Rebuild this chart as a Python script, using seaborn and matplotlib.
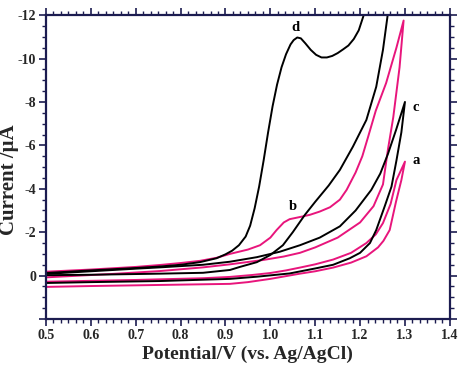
import matplotlib
matplotlib.use("Agg")
import matplotlib.pyplot as plt
import seaborn as sns
import pandas as pd
from matplotlib.ticker import MultipleLocator, AutoMinorLocator

# cyclic voltammograms, potential (V) vs current (uA), forward + reverse scans
a_fwd_E = [0.50, 0.60, 0.70, 0.754, 0.85, 0.91, 0.96, 1.00, 1.035, 1.066, 1.10, 1.14, 1.18, 1.214,
           1.235, 1.251, 1.268, 1.281, 1.30]
a_fwd_I = [0.28, 0.24, 0.20, 0.17, 0.12, 0.06, -0.03, -0.12, -0.24, -0.37, -0.52, -0.74, -1.05, -1.5,
           -1.9, -2.42, -3.3, -4.4, -5.25]
a_rev_E = [1.30, 1.292, 1.28, 1.266, 1.252, 1.24, 1.214, 1.18, 1.14, 1.10, 1.066, 1.00, 0.95, 0.91,
           0.754, 0.60, 0.50]
a_rev_I = [-5.25, -4.4, -3.4, -2.1, -1.6, -1.3, -0.89, -0.6, -0.37, -0.2, -0.09, 0.15, 0.3, 0.38,
           0.43, 0.48, 0.52]

b_fwd_E = [0.50, 0.60, 0.70, 0.754, 0.80, 0.843, 0.88, 0.91, 0.95, 0.977, 1.00, 1.014, 1.03, 1.043,
           1.066, 1.088, 1.11, 1.133, 1.155, 1.17, 1.19, 1.205, 1.218, 1.235, 1.258, 1.281, 1.297]
b_fwd_I = [-0.18, -0.28, -0.40, -0.49, -0.58, -0.68, -0.82, -1.0, -1.2, -1.4, -1.75, -2.1, -2.45, -2.6,
           -2.7, -2.8, -2.95, -3.15, -3.5, -3.95, -4.75, -5.5, -6.4, -7.6, -8.87, -10.5, -11.75]
b_rev_E = [1.297, 1.288, 1.274, 1.262, 1.251, 1.23, 1.20, 1.15, 1.10, 1.066, 1.03, 0.984, 0.91, 0.85,
           0.754, 0.65, 0.50]
b_rev_I = [-11.75, -9.6, -7.3, -5.8, -4.2, -3.2, -2.45, -1.75, -1.3, -1.05, -0.88, -0.72, -0.52, -0.38,
           -0.21, -0.08, 0.08]

c_fwd_E = [0.50, 0.60, 0.70, 0.754, 0.85, 0.91, 0.97, 1.021, 1.066, 1.11, 1.155, 1.19, 1.225, 1.245,
           1.262, 1.28, 1.30]
c_fwd_I = [-0.08, -0.20, -0.32, -0.38, -0.50, -0.64, -0.85, -1.1, -1.4, -1.75, -2.27, -3.0, -3.95, -4.7,
           -5.6, -6.7, -8.0]
c_rev_E = [1.30, 1.292, 1.281, 1.27, 1.255, 1.236, 1.222, 1.20, 1.177, 1.14, 1.10, 1.043, 0.97, 0.91,
           0.754, 0.60, 0.50]
c_rev_I = [-8.0, -6.6, -5.3, -4.1, -3.2, -2.1, -1.5, -1.05, -0.8, -0.5, -0.33, -0.1, 0.05, 0.15,
           0.25, 0.30, 0.34]

d_fwd_E = [0.50, 0.60, 0.70, 0.754, 0.80, 0.843, 0.88, 0.90, 0.915, 0.93, 0.945, 0.955, 0.965, 0.975,
           0.985, 0.995, 1.005, 1.015, 1.025, 1.035, 1.045, 1.052, 1.06, 1.068, 1.078, 1.09, 1.102,
           1.114, 1.126, 1.138, 1.15, 1.162, 1.174, 1.186, 1.197, 1.207, 1.22, 1.25, 1.30]
d_fwd_I = [-0.12, -0.24, -0.35, -0.42, -0.50, -0.62, -0.80, -0.98, -1.15, -1.4, -1.8, -2.3, -3.1, -4.1,
           -5.3, -6.6, -7.8, -8.8, -9.6, -10.2, -10.65, -10.85, -10.97, -10.93, -10.7, -10.4, -10.17,
           -10.05, -10.05, -10.12, -10.25, -10.42, -10.6, -10.9, -11.3, -11.93, -13.0, -16.0, -19.0]
d_rev_E = [1.30, 1.268, 1.262, 1.251, 1.236, 1.214, 1.184, 1.155, 1.13, 1.10, 1.077, 1.05, 1.028,
           1.00, 0.97, 0.932, 0.91, 0.85, 0.754, 0.60, 0.50]
d_rev_I = [-19.0, -12.6, -12.08, -10.4, -8.7, -7.17, -5.94, -4.87, -4.15, -3.4, -2.8, -2.0, -1.4,
           -0.95, -0.62, -0.4, -0.26, -0.13, -0.09, -0.04, -0.02]

curve_names = ["a", "b", "c", "d"]
curve_colors = ["#e8157c", "#e8157c", "black", "black"]
label_pos = {"a": (1.317, -5.3), "b": (1.05, -3.2), "c": (1.316, -7.75), "d": (1.055, -11.45)}

curves = {
    "a": (a_fwd_E + a_rev_E, a_fwd_I + a_rev_I),
    "b": (b_fwd_E + b_rev_E, b_fwd_I + b_rev_I),
    "c": (c_fwd_E + c_rev_E, c_fwd_I + c_rev_I),
    "d": (d_fwd_E + d_rev_E, d_fwd_I + d_rev_I),
}

sns.set_theme(style="ticks")
plt.rcParams["font.family"] = ["Liberation Serif", "DejaVu Serif"]
plt.rcParams["font.weight"] = "bold"

navy = "#1c1c50"
fig = plt.figure(figsize=(4.74, 3.78), dpi=100)
ax = fig.add_axes([0.097, 0.156, 0.852, 0.804])

for name, color in zip(curve_names, curve_colors):
    E, I = curves[name]
    df = pd.DataFrame({"E": E, "I": I})
    sns.lineplot(data=df, x="E", y="I", sort=False, estimator=None, color=color,
                 linewidth=1.4, ax=ax)
    ax.text(label_pos[name][0], label_pos[name][1], name, fontsize=10.5, fontweight="bold",
            ha="left" if name in ("a", "c") else "center", va="center", color="black")

ax.set_ylim(2, -12)
ax.xaxis.set_minor_locator(AutoMinorLocator(6))
ax.yaxis.set_minor_locator(AutoMinorLocator(4))
ax.set_yticks([-12, -10, -8, -6, -4, -2, 0, 2])
ax.set_yticklabels(["-12", "-10", "-8", "-6", "-4", "-2", "0", ""])
ax.set_xticks([0.5, 0.6, 0.7, 0.8, 0.9, 1.0, 1.1, 1.2, 1.3, 1.4])
ax.set_xticklabels(["0.5", "0.6", "0.7", "0.8", "0.9", "1.0", "1.1", "1.2", "1.3", "1.4"])
ax.set_xlim(0.5, 1.4)

ax.tick_params(which="both", direction="out", top=True, right=True, color=navy,
               labelsize=10, pad=2)
ax.tick_params(which="major", length=5, width=1.2)
ax.tick_params(which="minor", length=3, width=1.0)
for lab in ax.get_xticklabels() + ax.get_yticklabels():
    lab.set_fontweight("bold")
for sp in ax.spines.values():
    sp.set_visible(True)
    sp.set_color(navy)
    sp.set_linewidth(1.6)

ax.set_xlabel("Potential/V (vs. Ag/AgCl)", fontsize=14, fontweight="bold", labelpad=3)
ax.set_ylabel("Current /μA", fontsize=15, fontweight="bold")
ax.yaxis.set_label_coords(-0.066, 0.46)

fig.savefig("out.png", dpi=100)
plt.close(fig)
